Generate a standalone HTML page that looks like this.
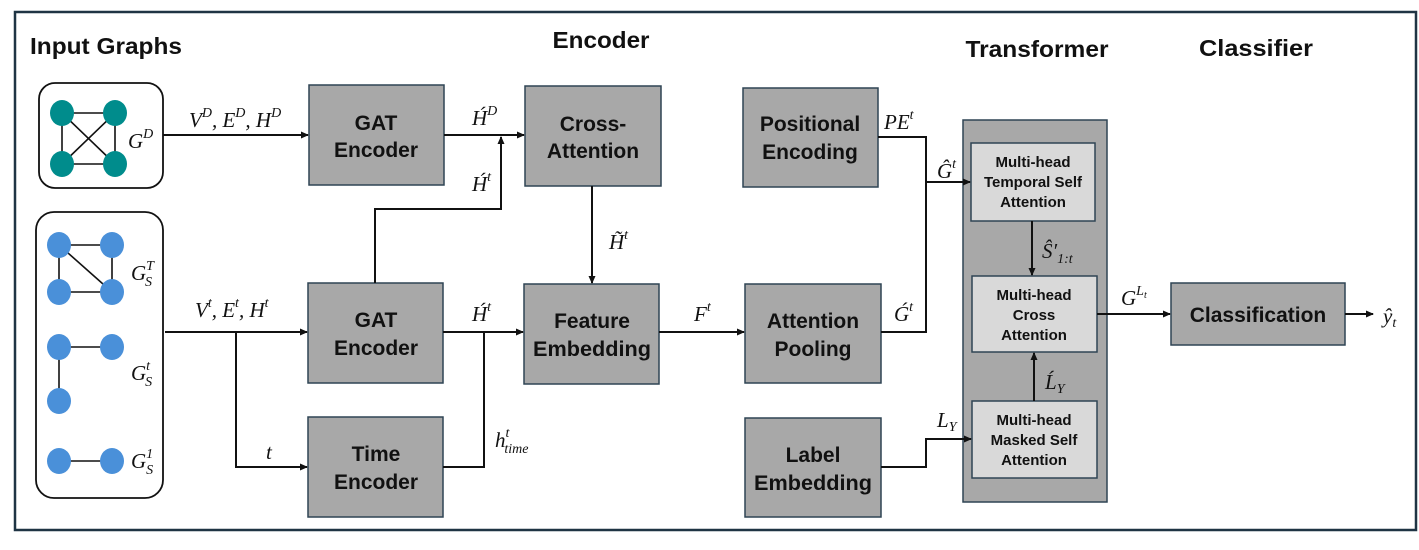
<!DOCTYPE html>
<html><head><meta charset="utf-8"><style>
html,body{margin:0;padding:0;background:#fff;}
svg{display:block;}
.t{font-family:"Liberation Sans",sans-serif;font-weight:bold;fill:#111;text-anchor:middle;}
.m{font-family:"Liberation Serif",serif;font-style:italic;font-size:21px;fill:#111;}
.s{font-size:14px;}
.box{fill:#a8a8a8;stroke:#2f4454;stroke-width:1.5;}
.ib{fill:#d9d9d9;stroke:#2f4454;stroke-width:1.5;}
.l{stroke:#111;stroke-width:2;fill:none;}
.e{stroke:#111;stroke-width:1.6;}
</style></head><body>
<svg width="1419" height="550" viewBox="0 0 1419 550" xmlns="http://www.w3.org/2000/svg">
<defs><marker id="a" markerWidth="8" markerHeight="8" refX="7" refY="4" orient="auto" markerUnits="userSpaceOnUse"><path d="M0,0.5 L8,4 L0,7.5 z" fill="#111"/></marker></defs>
<rect x="15" y="12" width="1401" height="518" fill="none" stroke="#1f3444" stroke-width="2.5"/>
<text class="t" x="106" y="54" font-size="23" textLength="152" lengthAdjust="spacingAndGlyphs">Input Graphs</text>
<text class="t" x="601" y="48" font-size="23" textLength="97" lengthAdjust="spacingAndGlyphs">Encoder</text>
<text class="t" x="1037" y="57" font-size="23" textLength="143" lengthAdjust="spacingAndGlyphs">Transformer</text>
<text class="t" x="1256" y="56" font-size="23" textLength="114" lengthAdjust="spacingAndGlyphs">Classifier</text>

<!-- GD graph -->
<rect x="39" y="83" width="124" height="105" rx="16" fill="#fff" stroke="#111" stroke-width="1.8"/>
<g class="e"><line x1="62" y1="113" x2="115" y2="113"/><line x1="62" y1="164" x2="115" y2="164"/><line x1="62" y1="113" x2="62" y2="164"/><line x1="115" y1="113" x2="115" y2="164"/><line x1="62" y1="113" x2="115" y2="164"/><line x1="115" y1="113" x2="62" y2="164"/></g>
<g fill="#008c8c"><ellipse cx="62" cy="113" rx="12" ry="13"/><ellipse cx="115" cy="113" rx="12" ry="13"/><ellipse cx="62" cy="164" rx="12" ry="13"/><ellipse cx="115" cy="164" rx="12" ry="13"/></g>
<text class="m" x="128" y="148">G<tspan class="s" dy="-10">D</tspan></text>

<!-- GS graphs -->
<rect x="36" y="212" width="127" height="286" rx="18" fill="#fff" stroke="#111" stroke-width="1.8"/>
<g class="e"><line x1="59" y1="245" x2="112" y2="245"/><line x1="59" y1="292" x2="112" y2="292"/><line x1="59" y1="245" x2="59" y2="292"/><line x1="112" y1="245" x2="112" y2="292"/><line x1="59" y1="245" x2="112" y2="292"/>
<line x1="59" y1="347" x2="112" y2="347"/><line x1="59" y1="347" x2="59" y2="401"/><line x1="59" y1="461" x2="112" y2="461"/></g>
<g fill="#4a90d9"><ellipse cx="59" cy="245" rx="12" ry="13"/><ellipse cx="112" cy="245" rx="12" ry="13"/><ellipse cx="59" cy="292" rx="12" ry="13"/><ellipse cx="112" cy="292" rx="12" ry="13"/><ellipse cx="59" cy="347" rx="12" ry="13"/><ellipse cx="112" cy="347" rx="12" ry="13"/><ellipse cx="59" cy="401" rx="12" ry="13"/><ellipse cx="59" cy="461" rx="12" ry="13"/><ellipse cx="112" cy="461" rx="12" ry="13"/></g>
<text class="m" x="131" y="280">G<tspan class="s" dy="-10">T</tspan><tspan class="s" dx="-9" dy="16">S</tspan></text>
<text class="m" x="131" y="380">G<tspan class="s" dy="-10">t</tspan><tspan class="s" dx="-5" dy="16">S</tspan></text>
<text class="m" x="131" y="468">G<tspan class="s" dy="-10">1</tspan><tspan class="s" dx="-7" dy="16">S</tspan></text>

<!-- boxes -->
<rect class="box" x="309" y="85" width="135" height="100"/>
<text class="t" x="376" y="130" font-size="21">GAT</text><text class="t" x="376" y="157" font-size="21">Encoder</text>
<rect class="box" x="525" y="86" width="136" height="100"/>
<text class="t" x="593" y="131" font-size="21">Cross-</text><text class="t" x="593" y="158" font-size="21">Attention</text>
<rect class="box" x="308" y="283" width="135" height="100"/>
<text class="t" x="376" y="327" font-size="21">GAT</text><text class="t" x="376" y="355" font-size="21">Encoder</text>
<rect class="box" x="308" y="417" width="135" height="100"/>
<text class="t" x="376" y="461" font-size="21">Time</text><text class="t" x="376" y="489" font-size="21">Encoder</text>
<rect class="box" x="524" y="284" width="135" height="100"/>
<text class="t" x="592" y="328" font-size="21">Feature</text><text class="t" x="592" y="356" font-size="21" textLength="118" lengthAdjust="spacingAndGlyphs">Embedding</text>
<rect class="box" x="743" y="88" width="135" height="99"/>
<text class="t" x="810" y="131" font-size="21">Positional</text><text class="t" x="810" y="159" font-size="21">Encoding</text>
<rect class="box" x="745" y="284" width="136" height="99"/>
<text class="t" x="813" y="328" font-size="21">Attention</text><text class="t" x="813" y="356" font-size="21">Pooling</text>
<rect class="box" x="745" y="418" width="136" height="99"/>
<text class="t" x="813" y="462" font-size="21">Label</text><text class="t" x="813" y="490" font-size="21" textLength="118" lengthAdjust="spacingAndGlyphs">Embedding</text>
<rect class="box" x="963" y="120" width="144" height="382"/>
<rect class="ib" x="971" y="143" width="124" height="78"/>
<text class="t" x="1033" y="167" font-size="15">Multi-head</text><text class="t" x="1033" y="187" font-size="15">Temporal Self</text><text class="t" x="1033" y="207" font-size="15">Attention</text>
<rect class="ib" x="972" y="276" width="125" height="76"/>
<text class="t" x="1034" y="300" font-size="15">Multi-head</text><text class="t" x="1034" y="320" font-size="15">Cross</text><text class="t" x="1034" y="340" font-size="15">Attention</text>
<rect class="ib" x="972" y="401" width="125" height="77"/>
<text class="t" x="1034" y="425" font-size="15">Multi-head</text><text class="t" x="1034" y="445" font-size="15">Masked Self</text><text class="t" x="1034" y="465" font-size="15">Attention</text>
<rect class="box" x="1171" y="283" width="174" height="62"/>
<text class="t" x="1258" y="322" font-size="21">Classification</text>

<!-- connectors -->
<line class="l" x1="163" y1="135" x2="308" y2="135" marker-end="url(#a)"/>
<text class="m" x="189" y="127">V<tspan class="s" dy="-10">D</tspan><tspan dy="10">, E</tspan><tspan class="s" dy="-10">D</tspan><tspan dy="10">, H</tspan><tspan class="s" dy="-10">D</tspan></text>
<line class="l" x1="444" y1="135" x2="524" y2="135" marker-end="url(#a)"/>
<text class="m" x="472" y="125">H́<tspan class="s" dy="-10">D</tspan></text>
<polyline class="l" points="375,283 375,209 501,209 501,137" marker-end="url(#a)"/>
<text class="m" x="472" y="191">H́<tspan class="s" dy="-10">t</tspan></text>
<line class="l" x1="592" y1="186" x2="592" y2="283" marker-end="url(#a)"/>
<text class="m" x="609" y="249">H̃<tspan class="s" dy="-10">t</tspan></text>
<line class="l" x1="165" y1="332" x2="307" y2="332" marker-end="url(#a)"/>
<text class="m" x="195" y="317">V<tspan class="s" dy="-10">t</tspan><tspan dy="10">, E</tspan><tspan class="s" dy="-10">t</tspan><tspan dy="10">, H</tspan><tspan class="s" dy="-10">t</tspan></text>
<polyline class="l" points="236,332 236,467 307,467" marker-end="url(#a)"/>
<text class="m" x="266" y="459">t</text>
<line class="l" x1="443" y1="332" x2="523" y2="332" marker-end="url(#a)"/>
<text class="m" x="472" y="321">H́<tspan class="s" dy="-10">t</tspan></text>
<polyline class="l" points="443,467 484,467 484,332"/>
<text class="m" x="495" y="447">h<tspan class="s" dy="-10">t</tspan><tspan class="s" dx="-5" dy="16">time</tspan></text>
<line class="l" x1="659" y1="332" x2="744" y2="332" marker-end="url(#a)"/>
<text class="m" x="694" y="321">F<tspan class="s" dy="-10">t</tspan></text>
<polyline class="l" points="878,137 926,137 926,182"/>
<polyline class="l" points="881,332 926,332 926,182 970,182" marker-end="url(#a)"/>
<text class="m" x="884" y="129">PE<tspan class="s" dy="-10">t</tspan></text>
<text class="m" x="937" y="178">Ĝ<tspan class="s" dy="-10">t</tspan></text>
<text class="m" x="894" y="321">Ǵ<tspan class="s" dy="-10">t</tspan></text>
<polyline class="l" points="881,467 926,467 926,439 971,439" marker-end="url(#a)"/>
<text class="m" x="937" y="427">L<tspan class="s" dy="4">Y</tspan></text>
<line class="l" x1="1032" y1="221" x2="1032" y2="275" marker-end="url(#a)"/>
<text class="m" x="1042" y="258">Ŝ′<tspan class="s" dy="5">1:t</tspan></text>
<line class="l" x1="1034" y1="401" x2="1034" y2="353" marker-end="url(#a)"/>
<text class="m" x="1045" y="389">Ĺ<tspan class="s" dy="4">Y</tspan></text>
<line class="l" x1="1097" y1="314" x2="1170" y2="314" marker-end="url(#a)"/>
<text class="m" x="1121" y="305">G<tspan class="s" dy="-10">L</tspan><tspan style="font-size:10px" dy="3">t</tspan></text>
<line class="l" x1="1345" y1="314" x2="1373" y2="314" marker-end="url(#a)"/>
<text class="m" x="1383" y="323">ŷ<tspan class="s" dy="4">t</tspan></text>
</svg>
</body></html>
